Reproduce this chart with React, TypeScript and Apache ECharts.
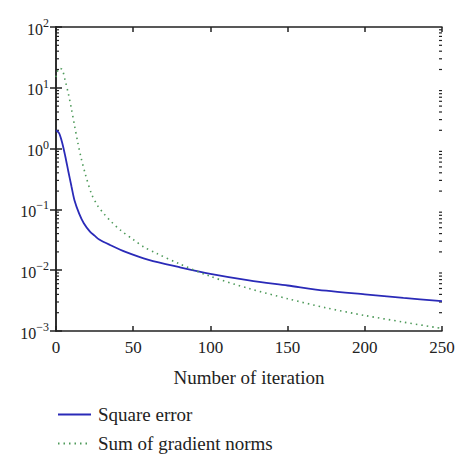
import React, { useEffect, useRef } from "react";
import * as echarts from "echarts";

const FONT = "'Liberation Serif', 'DejaVu Serif', serif";

const SQ_X = [0, 2, 4, 6, 8, 10, 12, 15, 18, 22, 25, 28, 35, 45, 60, 80, 100, 125, 150, 175, 200, 225, 250];
const SQ_Y = [2.0, 1.8, 1.25, 0.75, 0.42, 0.24, 0.14, 0.085, 0.059, 0.043, 0.037, 0.032, 0.026, 0.02, 0.0148, 0.0112, 0.0087, 0.0068, 0.0056, 0.0046, 0.004, 0.0035, 0.0031];

const GN_X = [0, 2, 4, 6, 8, 10, 12, 14, 16, 19, 23, 27, 31, 36, 42, 50, 57, 65, 80, 100, 125, 150, 175, 200, 225, 250];
const GN_Y = [15, 21, 20, 13, 8.0, 4.5, 2.4, 1.3, 0.75, 0.38, 0.18, 0.115, 0.085, 0.062, 0.045, 0.032, 0.024, 0.019, 0.0127, 0.0079, 0.005, 0.0034, 0.0024, 0.0018, 0.0014, 0.0011];

const DECADES = [-3, -2, -1, 0, 1];
const MANTISSAS = [2, 3, 4, 5, 6, 7, 8, 9];

const SERIES_NAMES = ["Square error", "Sum of gradient norms"];

export default function App() {
  const ref = useRef<HTMLDivElement>(null);
  useEffect(() => {
    if (!ref.current) return;
    const chart = echarts.init(ref.current, undefined, { renderer: "svg" });
    const minor: number[][] = [];
    DECADES.forEach((d) => MANTISSAS.forEach((m) => minor.push([0, m * Math.pow(10, d)])));
    const sup = (v: number) => {
      const e = Math.round(Math.log10(v));
      const s = e < 0 ? "\u2212" + Math.abs(e) : String(e);
      return `{b|10}{s|${s}}`;
    };
    const axisLine = { show: true, lineStyle: { color: "#222", width: 1.5 } };
    chart.setOption({
      animation: false,
      grid: { left: 56, top: 27, width: 386, height: 304 },
      legend: {
        orient: "vertical",
        left: 52,
        top: 400,
        itemWidth: 33,
        itemHeight: 14,
        itemGap: 10,
        itemStyle: { opacity: 0 },
        textStyle: { fontFamily: FONT, fontSize: 19, color: "#222", padding: [0, 0, 0, 2] },
        data: SERIES_NAMES,
      },
      xAxis: [
        {
          type: "value",
          min: 0,
          max: 250,
          interval: 50,
          position: "bottom",
          axisLine,
          axisTick: { inside: true, length: 5, lineStyle: { color: "#222", width: 1.5 } },
          axisLabel: { fontFamily: FONT, fontSize: 17, color: "#222", margin: 8 },
          splitLine: { show: false },
          name: "Number of iteration",
          nameLocation: "middle",
          nameGap: 37,
          nameTextStyle: { fontFamily: FONT, fontSize: 19, color: "#222" },
        },
        {
          type: "value",
          min: 0,
          max: 250,
          interval: 50,
          position: "top",
          axisLine,
          axisTick: { inside: true, length: 5, lineStyle: { color: "#222", width: 1.5 } },
          axisLabel: { show: false },
          splitLine: { show: false },
        },
      ],
      yAxis: [
        {
          type: "log",
          logBase: 10,
          min: 0.001,
          max: 100,
          interval: 1,
          position: "left",
          axisLine,
          axisTick: { inside: true, length: 6, lineStyle: { color: "#222", width: 1.5 } },
          axisLabel: {
            formatter: sup,
            margin: 7,
            color: "#222",
            rich: {
              b: { fontFamily: FONT, fontSize: 16, color: "#222", verticalAlign: "bottom", lineHeight: 20 },
              s: { fontFamily: FONT, fontSize: 12, color: "#222", verticalAlign: "top", lineHeight: 20, padding: [0, 0, 5, 0] },
            },
          },
          splitLine: { show: false },
        },
        {
          type: "log",
          logBase: 10,
          min: 0.001,
          max: 100,
          interval: 1,
          position: "right",
          axisLine,
          axisTick: { inside: true, length: 6, lineStyle: { color: "#222", width: 1.5 } },
          axisLabel: { show: false },
          splitLine: { show: false },
        },
      ],
      series: [
        {
          name: SERIES_NAMES[0],
          type: "line",
          data: SQ_X.map((x, i) => [x, SQ_Y[i]]),
          smooth: 0.3,
          showSymbol: false,
          symbol: "none",
          lineStyle: { color: "#2a2ab8", width: 1.8 },
          itemStyle: { color: "#2a2ab8" },
        },
        {
          name: SERIES_NAMES[1],
          type: "line",
          data: GN_X.map((x, i) => [x, GN_Y[i]]),
          smooth: 0.3,
          showSymbol: false,
          symbol: "none",
          lineStyle: { color: "#4e9a5a", width: 1.6, type: [1.5, 4] },
          itemStyle: { color: "#4e9a5a" },
        },
        {
          type: "custom",
          silent: true,
          clip: false,
          data: minor,
          renderItem: (params: any, api: any) => {
            const p = api.coord([0, api.value(1)]);
            const cs = params.coordSys;
            const y = p[1];
            const st = { stroke: "#222", lineWidth: 1.2 };
            return {
              type: "group",
              children: [
                { type: "line", shape: { x1: cs.x, y1: y, x2: cs.x + 3, y2: y }, style: st },
                { type: "line", shape: { x1: cs.x + cs.width, y1: y, x2: cs.x + cs.width - 3, y2: y }, style: st },
              ],
            };
          },
        },
      ],
    });
    return () => chart.dispose();
  }, []);
  return (
    <div
      ref={ref}
      style={{ position: "fixed", left: 0, top: 0, width: 474, height: 465, background: "#fff" }}
    />
  );
}
